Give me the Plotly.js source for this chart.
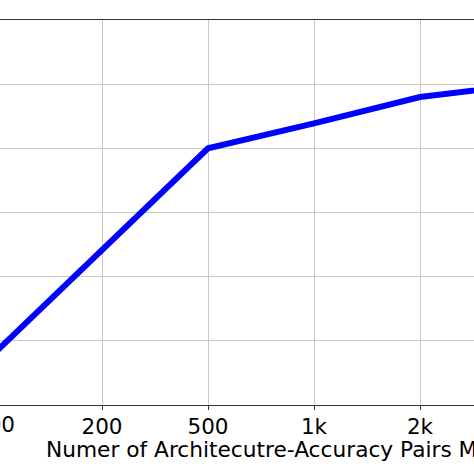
<!DOCTYPE html>
<html>
<head>
<meta charset="utf-8">
<script src="https://cdn.plot.ly/plotly-3.0.1.min.js"></script>
<style>html,body{margin:0;padding:0;background:#fff}#chart{width:474px;height:474px}</style>
</head>
<body>
<div id="chart"></div>
<script>
var pairLabels = ["100", "200", "500", "1k", "2k", "5k"];
var pairIndex = [0, 1, 2, 3, 4, 5];
var scoreValues = [0.383, 0.540, 0.700, 0.739, 0.780, 0.800];
var yTicks = [0.3, 0.4, 0.5, 0.6, 0.7, 0.8, 0.9];
var xTitle = "Numer of Architecutre-Accuracy Pairs M";

var W = 474;
var xRange = [4 / 106, (474 + 4) / 106];
var tickFont = {family: "DejaVu Sans", size: 21.5, color: "#000"};
var titleFont = {family: "DejaVu Sans", size: 21.7, color: "#000"};

var trace = {
  x: pairIndex,
  y: scoreValues,
  type: "scatter",
  mode: "lines",
  line: {color: "#0000ff", width: 6},
  hoverinfo: "none"
};

var firstPaperX = (pairIndex[0] - xRange[0]) / (xRange[1] - xRange[0]) - 2 / W;

var layout = {
  width: 474,
  height: 474,
  margin: {l: 0, r: 0, t: 20, b: 69, pad: 0},
  paper_bgcolor: "#fff",
  plot_bgcolor: "#fff",
  showlegend: false,
  font: tickFont,
  xaxis: {
    range: xRange,
    tickmode: "array",
    tickvals: pairIndex,
    ticktext: pairLabels,
    tickfont: tickFont,
    showgrid: true,
    gridcolor: "#c8c8c8",
    gridwidth: 1,
    zeroline: false,
    showline: true,
    linecolor: "#333",
    linewidth: 1,
    mirror: true,
    ticks: "outside",
    ticklen: 4,
    tickcolor: "#333",
    ticklabelstandoff: -2,
    fixedrange: true
  },
  yaxis: {
    range: [yTicks[0], yTicks[yTicks.length - 1]],
    tickmode: "array",
    tickvals: yTicks,
    showticklabels: false,
    showgrid: true,
    gridcolor: "#c8c8c8",
    gridwidth: 1,
    zeroline: false,
    showline: false,
    ticks: "",
    fixedrange: true
  },
  annotations: [
    {
      xref: "paper", yref: "paper",
      x: firstPaperX, y: 0,
      yshift: -5,
      xanchor: "center", yanchor: "top",
      text: pairLabels[0],
      showarrow: false,
      font: tickFont
    },
    {
      xref: "paper", yref: "paper",
      x: 44 / W, y: 0,
      yshift: -30,
      xanchor: "left", yanchor: "top",
      text: xTitle,
      showarrow: false,
      font: titleFont
    }
  ]
};

Plotly.newPlot("chart", [trace], layout, {displayModeBar: false, staticPlot: true});
</script>
</body>
</html>
